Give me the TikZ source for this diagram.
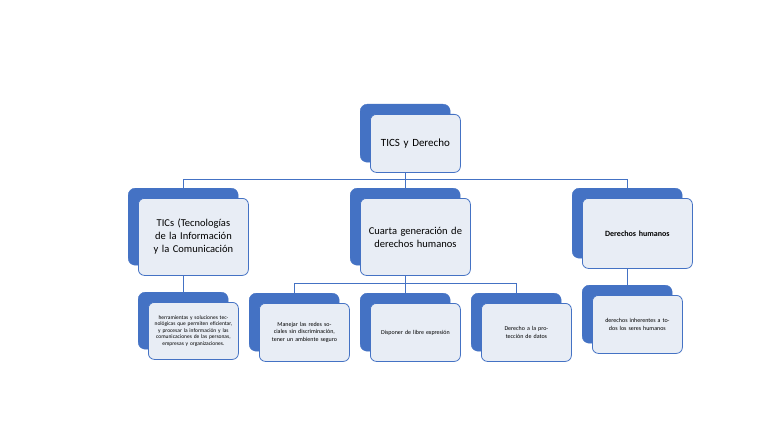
\documentclass[tikz,border=0pt]{standalone}
\usepackage{fontspec}
\setmainfont{Carlito}
\definecolor{bl}{HTML}{4472C4}
\definecolor{fr}{HTML}{E8EDF5}
\tikzset{
 back/.style={fill=bl,draw=bl,rounded corners=7pt,anchor=north west,inner sep=0pt},
 front/.style={fill=fr,draw=bl,line width=0.8pt,rounded corners=6pt,anchor=north west,inner sep=2pt,align=center},
 conn/.style={draw=bl,line width=0.8pt}
}
\newcommand{\elem}[7]{%
 \node[back,minimum width=#4pt,minimum height=#5pt] (#1b) at (#2,#3) {};
 \node[front,minimum width=#4pt,minimum height=#5pt,text width=#4pt-10pt,font=#7] (#1) at (#2+10,#3+10) {#6};
}
\begin{document}
\begin{tikzpicture}[x=1pt,y=-1pt]
\useasboundingbox[fill=white] (0,0) rectangle (768,433);
\elem{root}{360}{104}{90}{58}{TICS y Derecho}{\fontsize{11}{13}\selectfont}
\elem{a}{128}{188}{110}{77}{TICs (Tecnologías de la Información y la Comunicación}{\fontsize{10.5}{13}\selectfont}
\elem{b}{350}{188}{110}{77}{Cuarta generación de derechos humanos}{\fontsize{10.5}{13}\selectfont}
\elem{c}{572}{188}{110}{70}{\textbf{Derechos humanos}}{\fontsize{8}{10}\selectfont}
\elem{a1}{138}{292}{90}{57}{herramientas y soluciones tecnológicas que permiten eficientar, y procesar la información y las comunicaciones de las personas, empresas y organizaciones.}{\fontsize{5.5}{6.6}\selectfont}
\elem{b1}{249}{293}{90}{58}{Manejar las redes sociales sin discriminación, tener un ambiente seguro}{\fontsize{6}{7.5}\selectfont}
\elem{b2}{360}{293}{90}{58}{Disponer de libre expresión}{\fontsize{6}{7.5}\selectfont}
\elem{b3}{471}{293}{90}{58}{Derecho a la protección de datos}{\fontsize{6}{7.5}\selectfont}
\elem{c1}{582}{285}{90}{58}{derechos inherentes a todos los seres humanos}{\fontsize{6}{7.5}\selectfont}
\path[conn] (rootb.center |- root.south) -- ++(0,7) coordinate (h1);
\path[conn] (ab.north) |- (h1) -| (cb.north);
\path[conn] (h1) -- (bb.north);
\path[conn] (ab.north |- a.south) -- (a1b.north);
\path[conn] (cb.north |- c.south) -- (c1b.north);
\path[conn] (bb.north |- b.south) -- ++(0,8) coordinate (h2);
\path[conn] (b1b.north) |- (h2) -| (b3b.north);
\path[conn] (h2) -- (b2b.north);
\end{tikzpicture}
\end{document}
